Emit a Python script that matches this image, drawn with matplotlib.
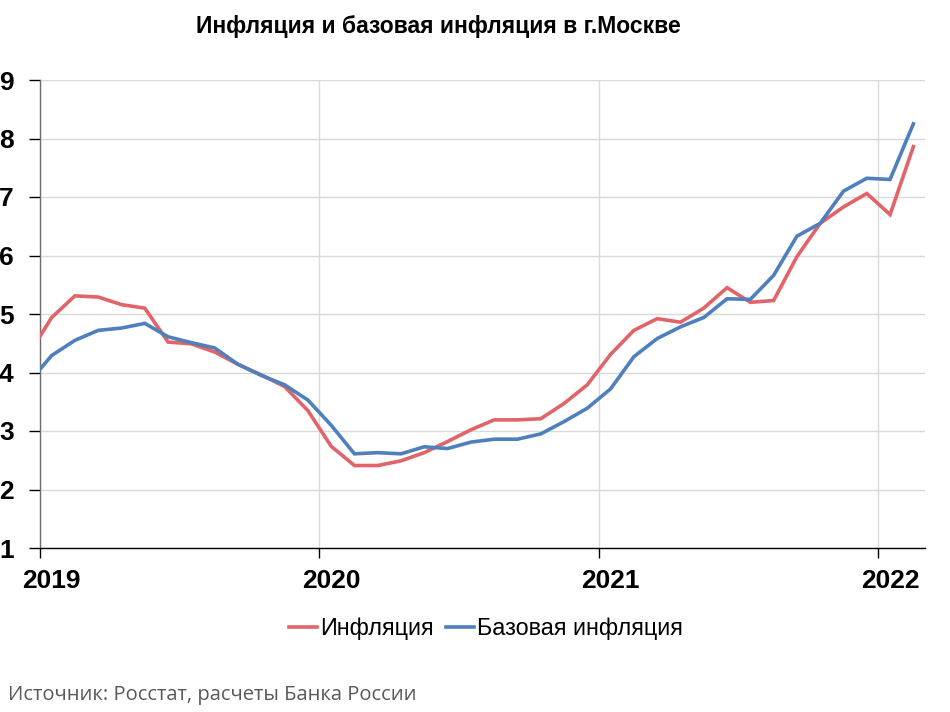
import matplotlib
matplotlib.use("Agg")
import matplotlib.pyplot as plt
import numpy as np

# monthly values, Dec 2018 .. Feb 2022 (Dec 2018 is only seen clipped at the left edge)
inflation = [4.30,
             4.94, 5.31, 5.29, 5.16, 5.10, 4.52, 4.49, 4.35, 4.14, 3.96, 3.76, 3.35,
             2.74, 2.41, 2.41, 2.49, 2.63, 2.82, 3.02, 3.19, 3.19, 3.21, 3.47, 3.79,
             4.31, 4.72, 4.92, 4.86, 5.10, 5.45, 5.20, 5.23, 5.98, 6.55, 6.83, 7.06,
             6.70, 7.86]
core_inflation = [3.82,
                  4.29, 4.55, 4.72, 4.76, 4.84, 4.61, 4.51, 4.42, 4.14, 3.95, 3.79, 3.53,
                  3.10, 2.61, 2.63, 2.61, 2.73, 2.70, 2.81, 2.86, 2.86, 2.95, 3.16, 3.39,
                  3.72, 4.27, 4.58, 4.78, 4.94, 5.26, 5.25, 5.66, 6.33, 6.55, 7.10, 7.32,
                  7.30, 8.25]
years = ["2019", "2020", "2021", "2022"]
y_ticks = [1, 2, 3, 4, 5, 6, 7, 8, 9]

# x in months from the start of Jan 2019, points sit mid-month
x = np.arange(len(inflation)) - 1 + 0.5

plt.rcParams['font.family'] = ['Liberation Sans', 'DejaVu Sans']

fig = plt.figure(figsize=(9.5, 7.12), dpi=100)
ax = fig.add_axes([40 / 950, 1 - 548 / 712, 885 / 950, 468 / 712])

red = '#E06468'
blue = '#4F7FBC'
ax.plot(x, inflation, color=red, lw=2.6, label='Инфляция', solid_joinstyle='miter', zorder=3)
ax.plot(x, core_inflation, color=blue, lw=2.6, label='Базовая инфляция', solid_joinstyle='miter', zorder=4)

ax.set_xlim(0, 38)
ax.set_ylim(1, 9)

# year boundaries as major ticks, year labels at the January points
ax.set_xticks([0, 12, 24, 36])
ax.set_xticklabels([])
ax.set_xticks([0.5, 12.5, 24.5, 36.5], minor=True)
ax.set_xticklabels(years, minor=True, fontsize=19, fontweight='bold')
ax.tick_params(axis='x', which='major', length=7, width=1, color='black', direction='out')
ax.tick_params(axis='x', which='minor', length=0, pad=15)

ax.set_yticks(y_ticks)
ax.set_yticklabels([str(v) for v in y_ticks], fontsize=19, fontweight='bold')
ax.tick_params(axis='y', length=8, width=1, pad=11)

ax.grid(True, which='major', color='#D9D9D9', lw=1)
ax.set_axisbelow(True)

for s in ['top', 'right']:
    ax.spines[s].set_visible(False)
ax.spines['left'].set_color('#6E6E6E')
ax.spines['bottom'].set_color('black')
ax.spines['left'].set_linewidth(1)
ax.spines['bottom'].set_linewidth(1)

fig.text(438 / 950, 1 - 26 / 712, 'Инфляция и базовая инфляция в г.Москве',
         ha='center', va='center', fontsize=16.5, fontweight='bold')

fig.legend(loc='center', bbox_to_anchor=(486 / 950, 1 - 629 / 712), ncol=2,
           frameon=False, fontsize=16.8, handlelength=1.2, handletextpad=0.15,
           columnspacing=0.5)

fig.text(8 / 950, 1 - 695 / 712, 'Источник: Росстат, расчеты Банка России',
         ha='left', va='center', fontsize=14.5, color='#595959',
         family=['Open Sans', 'DejaVu Sans'])

fig.savefig('out.png', dpi=100)
